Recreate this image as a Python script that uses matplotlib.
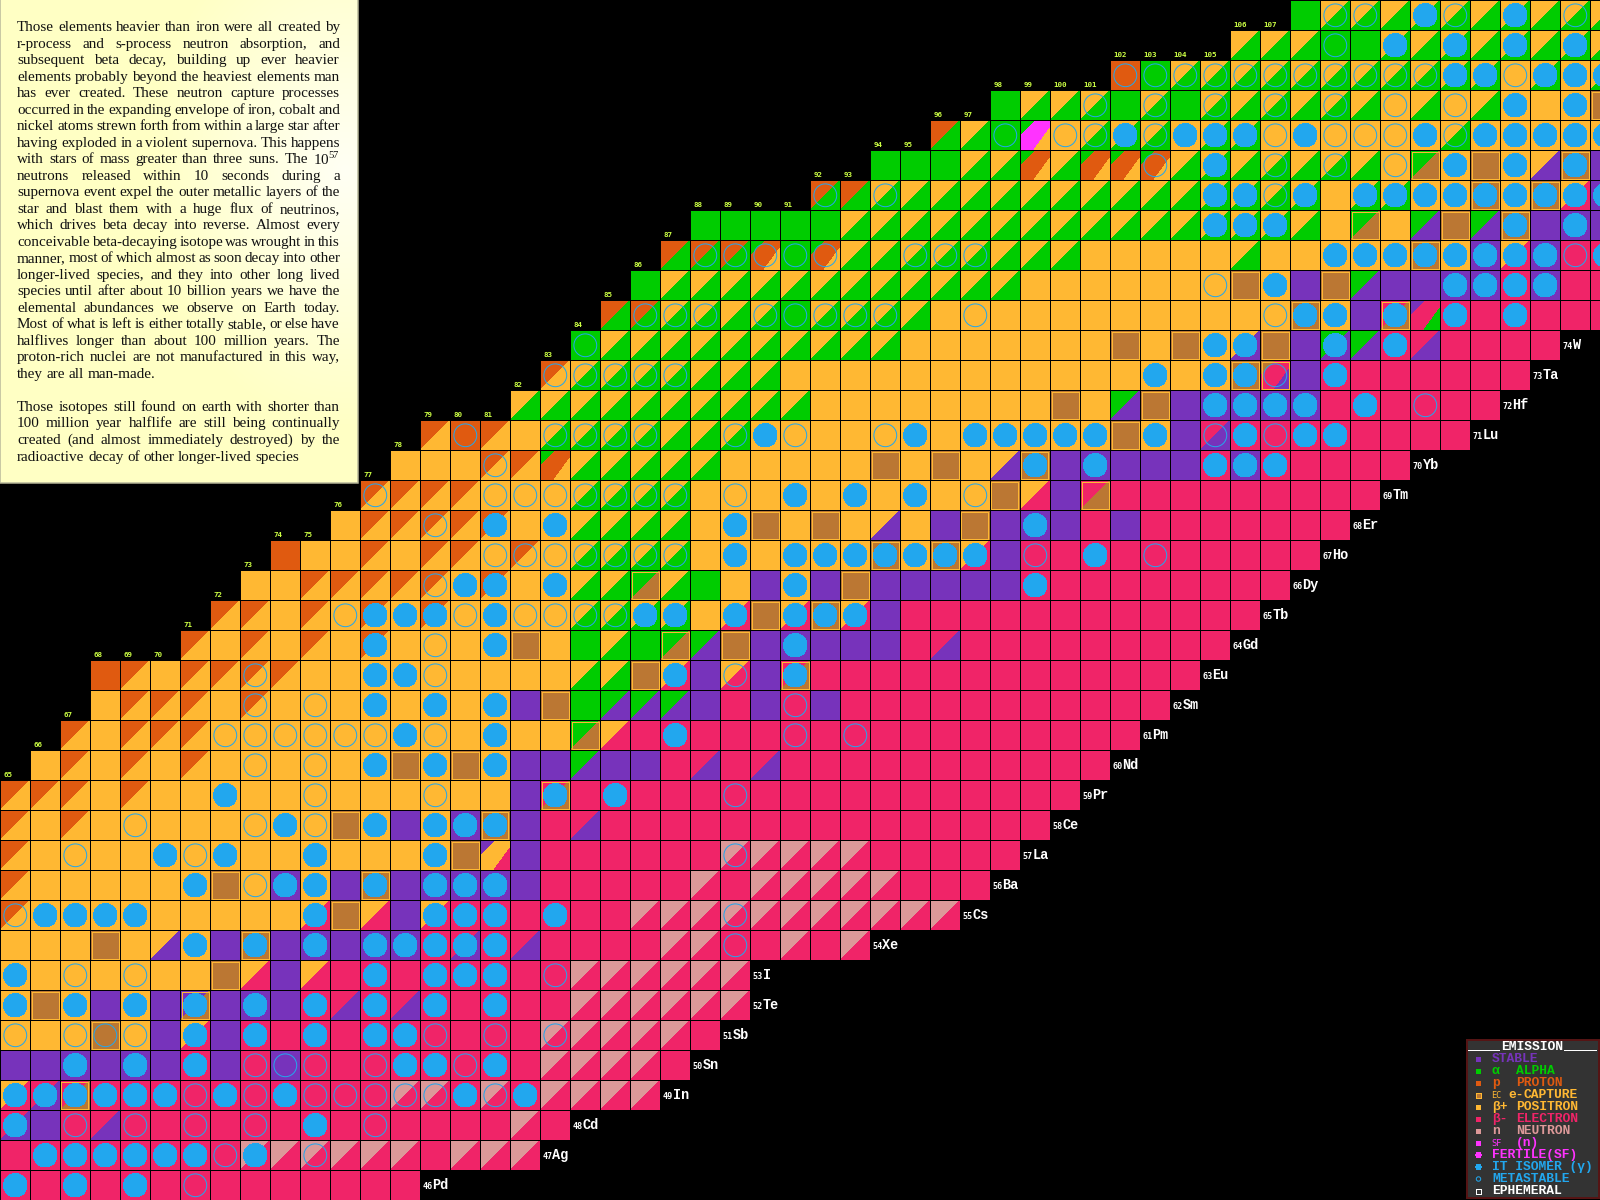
import matplotlib
matplotlib.use("Agg")
import matplotlib.pyplot as plt
import numpy as np
from matplotlib.colors import LinearSegmentedColormap
from matplotlib.patches import Polygon, Rectangle, Circle

# nuclide rows, lowest element first
first_z = 46
first_mass_label = 65
first_col = [0, 0, 0, 0, 0, 0, 0, 0, 0, 0, 0, 0, 0, 0, 1, 2, 3, 3, 6, 7, 8, 9, 11, 12, 13, 14, 17, 18, 19, 20, 21, 22, 23, 27, 29, 31, 33, 37, 41, 43]

# token: colours (1 = whole cell, 2 = upper left / lower right, 3 = corner, band, corner)
# then * for a filled circle or o for a ring
row_cells = [
    "E* E E* E E* E Eo E E E E E E E",
    "E E* E* E* E* E* E* Eo NE* NE NEo NE NE NE E NE NE NE",
    "ES* S Eo ES Eo E Eo E Eo E E* E Eo E E E E NE E",
    "OE* ES* EB* E* E* E* Eo E* Eo E* Eo Eo Eo NEo NEo E* NEo E* NE NE NE NE",
    "S S S* S S* S E* S Eo So Eo E Eo E* E* Eo E* E NE NE NE NE E",
    "Oo O Oo Bo Oo S OE* S E* E E* E E* E* Eo E Eo E NEo NE NE NE NE E",
    "O* B O* S O* S SB* S S* S E* ES E* ES E* E E* E E NE NE NE NE NE NE",
    "O* O Oo O Oo O O B OE S OE E E* E E* E* E* E Eo NE NE NE NE NE NE",
    "O O O B O OS O* S B* S S* S S* S* E* ES* E* ES E E E E NE NE Eo E NE E NE",
    "ROo O* O* O* O* O O O O O OE* B OE S OE* E* E* E E* E E NE NE NE NEo NE NE NE NE NE NE NE",
    "RO O O O O O O* B Oo S* O* S B* S S* S* S* S E E E E E NE E NE NE NE NE NE E E E",
    "RO O Oo O O O* Oo O* O O O* O O O O* B SOE S E E E E E E NEo NE NE NE NE E E E E E",
    "RO O RO O Oo O O O Oo O* Oo B O* S O* S* B* S E ES E E E E E E E E E E E E E E E",
    "RO RO RO O RO O O O* O O Oo O O O Oo O O S EB* E E* E E E Eo E E E E E E E E E E E",
    "O RO O RO O RO O Oo O Oo O O* B O* B O* S S GS S S E ES E ES E E E E E E E E E E E",
    "RO O RO RO RO Oo Oo Oo Oo Oo Oo O* Oo O O* O O GB OE E E* E E E Eo E Eo E E E E E E E E E",
    "O RO RO RO O ROo O Oo O O* O O* O O* S B G GS GS GS S E S Eo S E E E E E E E E E E E",
    "R RO O RO RO ROo RO O O O* O* Oo O O O O OG OG B OE* S OEo S EB* E E E E E E E E E E E E E",
    "RO O RO O RO O RO* O Oo O O* B O G OG G GB GS B S S* S S S E ES E E E E E E E E E",
    "RO RO O RO Oo RO* O* RO* Oo O* Oo Oo OGo OGo OG* OG* O OE* B OE* B* OE* S E E E E E E E E E E E E",
    "O O RO RO RO RO ROo O* RO* O O* OG OG GB OG G O S O* S B S S S S S E* E E E E E E E E",
    "R O O RO O RO RO Oo ROo Oo OGo OGo OGo OGo O O* O O* O* O* B* O* B* OE* S Eo E E* E Eo E E E E E",
    "O RO RO ROo RO RO* O O* OG OG OG OG O O* B O B O OS O S B S S* S E S E E E E E E E",
    "ROo RO RO RO Oo Oo Oo OGo OGo OGo OGo O Oo O O* O O* O O* O Oo B OE S EB E E E E E E E E E",
    "O O O ROo RO GRO OG OG OG OG OG O O O O O B O B O OS B* S S* S S S E* S* E* E E E E",
    "RO Ro RO O OGo OGo OGo OGo OG OG OGo O* Oo O O Oo O* O O* O* O* O* O* B O* S ESo E* Eo E* E* E E E E",
    "OG OG OG OG OG OG OG OG OG OG O O O O O O O O B O GS B S S* S* S* S* E E* E Eo E E",
    "ROo OGo OGo OGo OGo OG OG OG O O O O O O O O O O O O O* O O* B* BESo S E* E E E E E E",
    "Go OG OG OG OG OG OG OG OG OG OG O O O O O O O B O B O* OS* B S GS* GS E* ES E E E E",
    "RG RGo OGo OGo OG OGo Go OGo OGo OGo OG O Oo O O O O O O O O O Oo B* O* S EB* SEG E* E E* E E E",
    "G OG OG OG OG OG OG OG OG OG OG OG OG O O O O O O Oo B O* S B GS S S S* S* E* S* E E",
    "RG RGo RGo GROo Go GROo OG OG OGo OGo OGo OG OG OG O O O O O OG O O O* O* O* B* O* S* OE* S* Eo E*",
    "G G G G G OG OG OG OG OG OG OG OG OG OG OG OG OG* OG* OG* OG O GB O GS B GS B* S S* S",
    "RGo RG OGo OG OG OG OG OG OG OG OG OG OG OG* OG* OGo OG* O OG* OG* O* O* B* O* B* OE* S*",
    "G G G OG OG GRO OG GRO GRO GROo OG OG* OG OGo OG OGo OG Oo GB O* B O* OS B* S",
    "RG OG Go GMO Oo OGo OG* OGo O* OG* OG* Oo O* Oo Oo Oo O* OGo O* O* O* O* O*",
    "G OG OG OGo G OGo G OGo OG OGo OG OGo OG Oo OG Oo OG O* O O* B",
    "Ro Go OGo OGo OGo OGo OGo OGo OGo OGo OGo OG* OG* Oo OG* O* OG*",
    "OG OG OG Go G OG* OG OG* OG OG* OG OG* OG",
    "G OGo OGo OG OG* OGo OG OG* OG OGo OG",
]
element_symbols = ["Pd", "Ag", "Cd", "In", "Sn", "Sb", "Te", "I", "Xe", "Cs", "Ba", "La", "Ce", "Pr", "Nd",
                   "Pm", "Sm", "Eu", "Gd", "Tb", "Dy", "Ho", "Er", "Tm", "Yb", "Lu", "Hf", "Ta", "W"]

colors = {"O": "#FFB833", "G": "#00CC00", "R": "#E05A10", "S": "#7733BB", "E": "#F02468",
          "N": "#DD9999", "B": "#BB7733", "M": "#FF33FF"}
blue = "#22A7EE"

# legend
legend_titles = ["STABLE", "ALPHA", "PROTON", "CAPTURE", "POSITRON", "ELECTRON", "NEUTRON", "(n)",
                 "FERTILE(SF)", "IT ISOMER (γ)", "METASTABLE", "EPHEMERAL"]
legend_symbols = ["", "α", "p", "EC", "β+", "β-", "n", "SF", "", "", "", ""]
legend_colors = ["#7733BB", "#00CC00", "#E05A10", "#FFB833", "#FFB833", "#F02468", "#DD9999", "#FF33FF",
                 "#FF33FF", "#22A7EE", "#22A7EE", "#FFFFFF"]
legend_marks = ["square", "square", "square", "box", "square", "square", "square", "square",
                "disc", "disc", "ring", "hollow"]

para_lines = [
    "Those elements heavier than iron were all created by",
    "r-process and s-process neutron absorption, and",
    "subsequent beta decay, building up ever heavier",
    "elements probably beyond the heaviest elements man",
    "has ever created. These neutron capture processes",
    "occurred in the expanding envelope of iron, cobalt and",
    "nickel atoms strewn forth from within a large star after",
    "having exploded in a violent supernova. This happens",
    "with stars of mass greater than three suns. The 10$^{\\mathregular{57}}$",
    "neutrons released within 10 seconds during a",
    "supernova event expel the outer metallic layers of the",
    "star and blast them with a huge flux of neutrinos,",
    "which drives beta decay into reverse. Almost every",
    "conceivable beta-decaying isotope was wrought in this",
    "manner, most of which almost as soon decay into other",
    "longer-lived species, and they into other long lived",
    "species until after about 10 billion years we have the",
    "elemental abundances we observe on Earth today.",
    "Most of what is left is either totally stable, or else have",
    "halflives longer than about 100 million years. The",
    "proton-rich nuclei are not manufactured in this way,",
    "they are all man-made.",
    "",
    "Those isotopes still found on earth with shorter than",
    "100 million year halflife are still being continually",
    "created (and almost immediately destroyed) by the",
    "radioactive decay of other longer-lived species",
]
short_lines = ["they are all man-made.", "radioactive decay of other longer-lived species"]

mono = "Liberation Mono"
px = 0.72  # points per pixel at dpi 100

fig = plt.figure(figsize=(16, 12), dpi=100, facecolor="black")
ax = fig.add_axes([0, 0, 1, 1])
ax.set_xlim(0, 1600 / 30)
ax.set_ylim(first_z, first_z + 40)
ax.axis("off")
pix = fig.add_axes([0, 0, 1, 1])
pix.axis("off")
pix.patch.set_alpha(0)


def draw_cell(col, z, token):
    mark = None
    if token[-1] in "*o":
        mark = token[-1]
        token = token[:-1]
    x0, y1 = col, z + 1

    def poly(points, c):
        pts = [(x0 + u, y1 - v) for u, v in points]
        ax.add_patch(Polygon(pts, closed=True, fc=colors[c], ec="none", aa=False, zorder=1))

    if len(token) == 1:
        poly([(0, 0), (1, 0), (1, 1), (0, 1)], token)
    elif len(token) == 2:
        poly([(0, 0), (1, 0), (0, 1)], token[0])
        poly([(1, 0), (1, 1), (0, 1)], token[1])
    else:
        poly([(0, 0), (0.55, 0), (0, 0.55)], token[0])
        poly([(0.55, 0), (1, 0), (1, 0.28), (0.45, 1), (0, 1), (0, 0.55)], token[1])
        poly([(1, 0.28), (1, 1), (0.45, 1)], token[2])
    if "B" in token:
        d = 1.5 / 30
        ax.add_patch(Rectangle((col + d, z + d), 1 - 2 * d, 1 - 2 * d, fc="none", ec=colors["O"],
                               lw=1 * px, aa=False, zorder=2))
    if mark == "*":
        ax.add_patch(Circle((col + 0.51, z + 0.49), 0.39, fc=blue, ec="none", aa=False, zorder=3))
    elif mark == "o":
        ax.add_patch(Circle((col + 0.51, z + 0.49), 0.38, fc="none", ec=blue, lw=1 * px, zorder=3))
    ax.add_patch(Rectangle((col, z), 1, 1, fc="none", ec="black", lw=1 * px, aa=False, zorder=5))


top_of_col = {}
for i, (start, cells) in enumerate(zip(first_col, row_cells)):
    z = first_z + i
    tokens = cells.split()
    for j, token in enumerate(tokens):
        draw_cell(start + j, z, token)
        top_of_col[start + j] = z
    # element label at the end of the row
    if i < len(element_symbols):
        end = start + len(tokens)
        ax.annotate(str(z), (end, z + 0.5), xytext=(2.5, -3.5), textcoords="offset pixels",
                    color="white", fontsize=8.5 * px, family="DejaVu Sans Mono", weight="bold",
                    va="baseline", ha="left", zorder=6)
        ax.annotate(element_symbols[i], (end, z + 0.5), xytext=(12.5, -3.5), textcoords="offset pixels",
                    color="white", fontsize=13.5 * px, family=mono, weight="bold",
                    va="baseline", ha="left", zorder=6)

# mass numbers above the top cell of each column
for col, z in top_of_col.items():
    if z + 1 < first_z + 40:
        ax.annotate(str(first_mass_label + col), (col, z + 1), xytext=(3.5, 3), textcoords="offset pixels",
                    color="#CCFF44", fontsize=7.5 * px, family="DejaVu Sans Mono", weight="bold",
                    va="baseline", ha="left", zorder=6)

# text panel, paler towards the right hand side
panel_yy, panel_xx = np.mgrid[0:483, 0:358]
panel_glow = np.clip(1 - np.hypot((panel_xx - 345) / 200, (panel_yy - 170) / 260), 0, 1)
panel_cmap = LinearSegmentedColormap.from_list("panel", ["#FFFFC4", "#FFFFF4"])
pix.imshow(panel_glow, cmap=panel_cmap, vmin=0, vmax=1, extent=(0, 358, 483, 0), aspect="auto", zorder=7)
pix.add_patch(Rectangle((0, -2), 358, 485, fc="none", ec="#B8B89A", lw=1.5 * px, zorder=7))
pix.set_xlim(0, 1600)
pix.set_ylim(1200, 0)
renderer = fig.canvas.get_renderer()
for n, line in enumerate(para_lines):
    if not line:
        continue
    y = 26 + 16.52 * n
    words = line.split()
    items = [pix.text(17, y, w, family="Liberation Serif", fontsize=15.1 * px, color="#111111",
                      va="center_baseline", ha="left", zorder=8) for w in words]
    widths = [t.get_window_extent(renderer).width for t in items]
    if line in short_lines or len(words) < 2:
        gap = 3.7
    else:
        gap = (323 - sum(widths)) / (len(words) - 1)
    x = 17
    for t, w in zip(items, widths):
        t.set_x(x)
        x += w + gap

# legend panel
pix.add_patch(Rectangle((1466.5, 1039.5), 132, 158, fc="#333333", ec="#551414", lw=2 * px, zorder=7))
pix.text(1532, 1047, "EMISSION", color="white", family=mono, weight="bold", fontsize=13 * px,
         ha="center", va="center", zorder=8)
pix.plot([1468, 1499], [1050, 1050], color="white", lw=1 * px, zorder=8)
pix.plot([1564, 1596], [1050, 1050], color="white", lw=1 * px, zorder=8)
for n, (title, sym, c, mark) in enumerate(zip(legend_titles, legend_symbols, legend_colors, legend_marks)):
    y = 1059 + 12 * n
    if mark == "square":
        pix.add_patch(Rectangle((1476, y - 2.5), 5, 5, fc=c, ec="none", aa=False, zorder=8))
    elif mark == "box":
        pix.add_patch(Rectangle((1476, y - 2.5), 5, 5, fc=colors["B"], ec=c, lw=1 * px, aa=False, zorder=8))
    elif mark == "disc":
        pix.add_patch(Circle((1478.5, y), 2.6, fc=c, ec="none", aa=False, zorder=8))
    elif mark == "ring":
        pix.add_patch(Circle((1478.5, y), 2.2, fc="none", ec=c, lw=1 * px, zorder=8))
    else:
        pix.add_patch(Rectangle((1476, y - 2.5), 5, 5, fc="none", ec=c, lw=1 * px, aa=False, zorder=8))
    x_title = 1492 if not sym else 1516
    if sym in ("EC", "SF"):
        pix.text(1491, y, sym, color=c, family="DejaVu Sans Mono", fontsize=8.5 * px,
                 ha="left", va="center", zorder=8)
    elif sym:
        pix.text(1492, y, sym, color=c, family=mono, weight="bold", fontsize=13 * px,
                 ha="left", va="center", zorder=8)
    if title == "CAPTURE":
        pix.text(1508, y, "e-", color=c, family=mono, weight="bold", fontsize=13 * px,
                 ha="left", va="center", zorder=8)
        x_title = 1523
    pix.text(x_title, y, title, color=c, family=mono, weight="bold", fontsize=13 * px,
             ha="left", va="center", zorder=8)

fig.savefig("out.png", dpi=100, facecolor="black")
